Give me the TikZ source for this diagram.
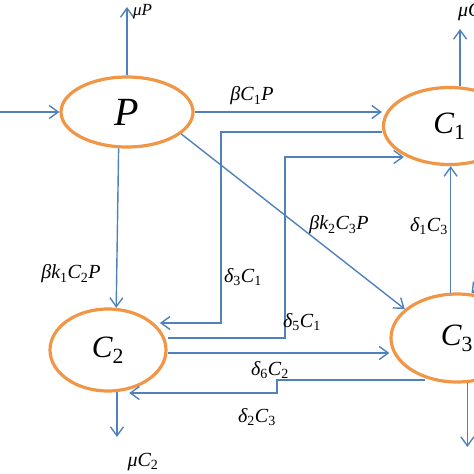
\documentclass[tikz,border=0pt]{standalone}
\usepackage{fontspec}
\setmainfont{Liberation Serif}
\usetikzlibrary{arrows.meta,shapes.geometric}
\definecolor{lineblue}{RGB}{79,129,189}
\definecolor{ellorange}{RGB}{240,150,70}
\newcommand{\sbs}[1]{\textsubscript{\upshape #1}}
\tikzset{
  ell/.style={ellipse, draw=ellorange, line width=3.2pt, inner sep=0pt, font=\fontsize{31}{31}\selectfont\itshape},
  arr/.style={draw=lineblue, line width=1.4pt, -{Straight Barb[length=9pt,width=13pt]}},
  lab/.style={inner sep=0pt, font=\fontsize{20}{20}\selectfont\itshape},
}
\begin{document}
\begin{tikzpicture}[x=1pt,y=-1pt]
\useasboundingbox (0,0) rectangle (474,474);
% compartments
\node[ell, minimum width=132pt, minimum height=70pt] (P) at (127,112) {\fontsize{40}{40}\selectfont P};
\node[ell, minimum width=132pt, minimum height=77pt] (C1) at (449.5,126) {C\sbs{1}};
\node[ell, minimum width=116pt, minimum height=82pt] (C2) at (108,350) {C\sbs{2}};
\node[ell, minimum width=132pt, minimum height=88pt] (C3) at (457,338) {C\sbs{3}};
% coordinates
\coordinate (inS) at (0,112);
\coordinate (muPend) at (127,7);
\coordinate (a1) at (221,132);
\coordinate (a2) at (221,323);
\coordinate (b1) at (285,338);
\coordinate (b2) at (285,157);
\coordinate (c1) at (250,353);
\coordinate (d1) at (277,380);
\coordinate (d2) at (277,393);
\coordinate (muC2end) at (117,437);
\coordinate (muC3end) at (467,447);
\coordinate (muC1end) at (459,29);
\coordinate (extC3) at (500,262);
% connectors
\draw[arr] (inS) -- (P.west);
\draw[arr] (P.north) -- (muPend);
\draw[arr] (P.east) -- (P.east -| C1.west);
\draw[arr] (C1.west |- a1) -- (a1) -- (a2) -- (C2.22 |- a2);
\draw[arr] (C2.east |- b1) -- (b1) -- (b2) -- (C1.213 |- b2);
\draw[arr] (C2.east |- c1) -- (C3.west |- c1);
\draw[arr] (P.-22) -- (C3.151);
\draw[arr] (P.257) -- (C2.79);
\draw[arr] (C3.98) -- (C3.98 |- C1.south);
\draw[arr] (C3.232 |- d1) -- (d1) -- (d2) -- (C2.-62 |- d2);
\draw[arr] (C2.-78) -- (C2.-78 |- muC2end);
\draw[arr] (C3.-77) -- (C3.-77 |- muC3end);
\draw[arr] (C1.75) -- (C1.75 |- muC1end);
\draw[arr] (extC3) -- (C3.72);
% labels
\node[lab, font=\fontsize{17}{17}\selectfont\itshape, anchor=west] (lmuP) at (133,12) {μP};
\node[lab, anchor=west] (lmuC1) at (458,12) {μC\sbs{1}};
\node[lab] (lbC1P) at (252,96) {βC\sbs{1}P};
\node[lab] (lbk2) at (339,225) {βk\sbs{2}C\sbs{3}P};
\node[lab] (ld1) at (429,226) {δ\sbs{1}C\sbs{3}};
\node[lab] (ld3) at (243,277) {δ\sbs{3}C\sbs{1}};
\node[lab] (ld5) at (302,322) {δ\sbs{5}C\sbs{1}};
\node[lab] (ld6) at (270,370) {δ\sbs{6}C\sbs{2}};
\node[lab] (ld2) at (257,417) {δ\sbs{2}C\sbs{3}};
\node[lab] (lbk1) at (71,274) {βk\sbs{1}C\sbs{2}P};
\node[lab] (lmuC2) at (143,462) {μC\sbs{2}};
\end{tikzpicture}
\end{document}
